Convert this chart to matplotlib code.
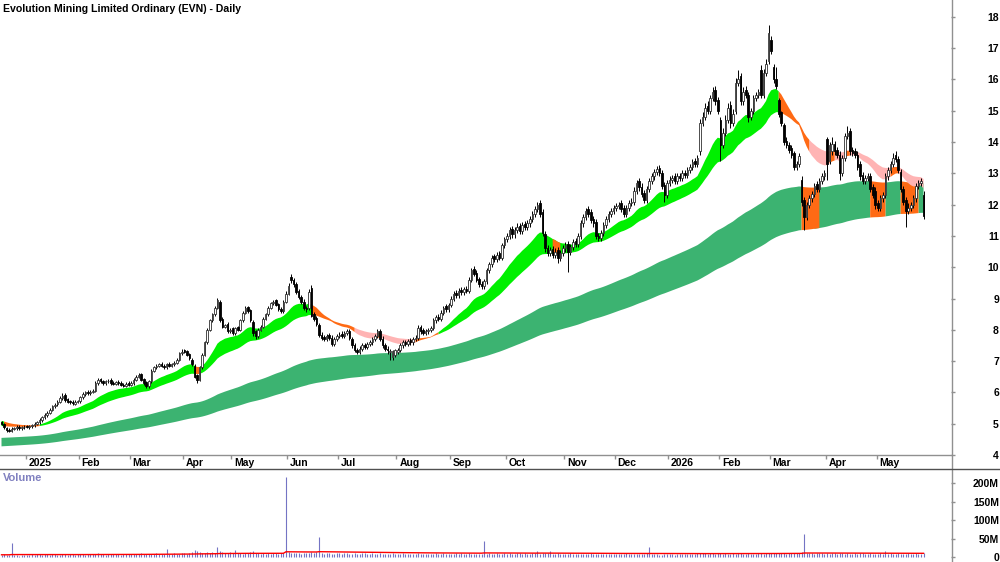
import numpy as np
import pandas as pd
import matplotlib
matplotlib.use("Agg")
import matplotlib.pyplot as plt
from matplotlib.lines import Line2D

# trading days per month on the chart (Dec 2024 partial .. May 2026 partial)
month_labels = ["", "2025", "Feb", "Mar", "Apr", "May", "Jun", "Jul", "Aug", "Sep",
                "Oct", "Nov", "Dec", "2026", "Feb", "Mar", "Apr", "May"]
month_days = [10, 21, 20, 21, 19, 22, 20, 23, 21, 22, 23, 20, 21, 20, 20, 22, 20, 19]

opens = [
    5.05, 4.98, 4.86, 4.80, 4.78, 4.84, 4.86, 4.90, 4.85, 4.88,
    4.92, 4.88, 4.92, 4.95, 5.00, 5.05, 5.12, 5.20, 5.28, 5.35, 5.45, 5.55, 5.62, 5.70, 5.82, 5.92, 5.78, 5.72, 5.70, 5.64, 5.70,
    5.72, 5.85, 5.95, 6.02, 5.98, 6.02, 6.05, 6.30, 6.42, 6.36, 6.30, 6.35, 6.40, 6.30, 6.28, 6.34, 6.30, 6.25, 6.22, 6.30,
    6.25, 6.30, 6.40, 6.50, 6.58, 6.42, 6.32, 6.20, 6.35, 6.70, 6.80, 6.85, 6.92, 6.86, 6.80, 6.92, 6.85, 6.90, 6.95, 7.05, 7.25,
    7.35, 7.32, 7.22, 7.05, 6.85, 6.55, 6.40, 6.80, 7.20, 7.60, 8.00, 8.30, 8.50, 8.70, 8.90, 8.35, 8.10, 8.20, 7.95,
    8.05, 7.90, 8.08, 8.00, 8.30, 8.55, 8.72, 8.62, 8.25, 7.95, 7.80, 8.00, 8.10, 8.35, 8.50, 8.70, 8.85, 8.95, 8.82, 8.68, 8.60, 8.90,
    9.15, 9.70, 9.58, 9.45, 9.25, 9.05, 8.90, 8.70, 8.70, 9.35, 8.50, 8.38, 8.15, 7.85, 7.78, 7.70, 7.82, 7.75, 7.55, 7.70,
    7.80, 7.88, 7.80, 7.90, 7.95, 7.70, 7.52, 7.35, 7.30, 7.40, 7.52, 7.45, 7.55, 7.60, 7.70, 7.80, 7.95, 7.72, 7.52, 7.40, 7.28, 7.12, 7.20,
    7.30, 7.35, 7.50, 7.62, 7.55, 7.68, 7.60, 7.70, 7.75, 8.08, 7.98, 7.90, 7.95, 8.00, 8.05, 8.30, 8.42, 8.35, 8.55, 8.75, 8.65,
    8.80, 9.00, 9.18, 9.10, 9.28, 9.20, 9.32, 9.25, 9.60, 9.95, 9.82, 9.62, 9.48, 9.40, 9.55, 9.90, 10.10, 10.35, 10.25, 10.45, 10.30, 10.70,
    10.90, 11.00, 11.22, 11.05, 11.20, 11.32, 11.15, 11.38, 11.30, 11.40, 11.55, 11.70, 11.85, 12.05, 11.75, 11.05, 10.62, 10.45, 10.58, 10.40, 10.55, 10.30, 10.45,
    10.60, 10.75, 10.50, 10.65, 10.85, 10.75, 11.00, 11.40, 11.60, 11.85, 11.75, 11.55, 11.45, 11.00, 10.95, 11.10, 11.35, 11.55, 11.70, 11.80,
    11.90, 11.95, 12.05, 11.88, 11.70, 11.90, 12.05, 12.10, 12.45, 12.75, 12.58, 12.38, 12.15, 12.50, 12.75, 12.90, 13.05, 13.18, 13.02, 12.62, 12.30,
    12.70, 12.80, 12.90, 12.75, 12.92, 12.85, 13.02, 12.95, 13.10, 13.20, 13.38, 13.30, 13.70, 14.60, 14.80, 15.15, 15.00, 15.40, 15.65, 15.35,
    14.70, 13.90, 14.30, 14.70, 15.20, 14.60, 15.00, 15.90, 16.10, 15.30, 15.65, 15.50, 14.80, 15.00, 15.40, 15.50, 16.30, 15.50, 16.20, 16.60,
    17.25, 16.40, 16.00, 15.35, 14.95, 14.55, 14.05, 13.90, 13.80, 13.65, 13.20, 13.30, 12.80, 12.15, 11.60, 12.00, 12.20, 12.35, 12.65, 12.50, 12.75, 12.90,
    14.10, 13.40, 13.70, 13.95, 13.75, 13.60, 13.00, 13.50, 14.20, 14.35, 13.75, 13.70, 13.60, 13.30, 12.95, 12.75, 12.85, 12.90, 12.55, 12.45,
    12.05, 11.90, 12.20, 12.30, 12.90, 13.10, 13.30, 13.60, 13.45, 13.05, 12.50, 12.15, 11.80, 11.90, 12.00, 12.20, 12.60, 12.70, 12.30,
]
highs = [
    5.10, 5.03, 4.91, 4.85, 4.89, 4.91, 4.95, 4.95, 4.93, 4.95,
    4.97, 4.97, 5.00, 5.05, 5.10, 5.17, 5.25, 5.33, 5.40, 5.50, 5.60, 5.65, 5.75, 5.87, 5.98, 5.97, 5.83, 5.77, 5.75, 5.75, 5.77,
    5.90, 6.00, 6.05, 6.07, 6.07, 6.10, 6.35, 6.45, 6.47, 6.41, 6.40, 6.43, 6.45, 6.35, 6.37, 6.39, 6.35, 6.30, 6.33, 6.35,
    6.35, 6.45, 6.55, 6.62, 6.63, 6.47, 6.37, 6.40, 6.75, 6.85, 6.90, 6.95, 6.97, 6.91, 6.95, 6.97, 6.95, 7.00, 7.10, 7.30, 7.38,
    7.40, 7.37, 7.27, 7.10, 6.90, 6.60, 6.85, 7.25, 7.65, 8.05, 8.35, 8.55, 8.75, 9.02, 8.95, 8.40, 8.20, 8.25, 8.05,
    8.10, 8.10, 8.13, 8.35, 8.60, 8.75, 8.77, 8.67, 8.30, 8.00, 8.05, 8.15, 8.40, 8.55, 8.75, 8.90, 8.95, 9.00, 8.87, 8.73, 8.95, 9.25,
    9.50, 9.80, 9.65, 9.52, 9.32, 9.12, 8.97, 8.77, 9.30, 9.42, 8.57, 8.45, 8.22, 7.92, 7.85, 7.87, 7.89, 7.82, 7.77, 7.87,
    7.92, 7.95, 7.97, 8.02, 8.02, 7.77, 7.59, 7.42, 7.47, 7.57, 7.59, 7.62, 7.67, 7.77, 7.87, 8.02, 8.02, 7.79, 7.59, 7.47, 7.38, 7.37, 7.40,
    7.42, 7.57, 7.67, 7.69, 7.72, 7.75, 7.77, 7.82, 8.15, 8.15, 8.05, 8.02, 8.07, 8.12, 8.37, 8.47, 8.49, 8.62, 8.77, 8.82, 8.87,
    9.08, 9.23, 9.26, 9.33, 9.36, 9.38, 9.40, 9.68, 9.98, 10.03, 9.90, 9.70, 9.56, 9.63, 9.98, 10.18, 10.38, 10.43, 10.48, 10.53, 10.78, 10.98,
    11.10, 11.30, 11.32, 11.30, 11.40, 11.42, 11.45, 11.48, 11.50, 11.65, 11.80, 11.95, 12.10, 12.15, 11.85, 11.15, 10.72, 10.65, 10.68, 10.60, 10.65, 10.55, 10.70,
    10.80, 10.85, 10.75, 10.90, 10.95, 11.10, 11.50, 11.70, 11.90, 11.95, 11.85, 11.65, 11.55, 11.10, 11.20, 11.45, 11.65, 11.80, 11.90, 12.00,
    12.05, 12.10, 12.15, 11.98, 12.00, 12.15, 12.20, 12.55, 12.80, 12.85, 12.68, 12.48, 12.60, 12.85, 13.00, 13.15, 13.25, 13.28, 13.12, 12.72, 12.80,
    12.90, 12.95, 13.00, 13.00, 13.02, 13.10, 13.12, 13.20, 13.30, 13.45, 13.48, 13.60, 14.75, 14.95, 15.25, 15.30, 15.50, 15.75, 15.80, 15.45,
    14.80, 14.45, 14.85, 15.25, 15.30, 15.05, 16.05, 16.30, 16.20, 15.75, 15.80, 15.60, 15.10, 15.50, 15.60, 15.70, 16.45, 16.35, 16.65, 17.75,
    17.40, 16.50, 16.40, 15.40, 15.00, 14.60, 14.15, 14.00, 13.90, 13.70, 13.40, 13.65, 12.90, 12.25, 12.10, 12.30, 12.45, 12.70, 12.75, 12.85, 13.00, 13.10,
    14.15, 14.00, 14.15, 14.05, 13.85, 13.70, 13.60, 14.30, 14.50, 14.45, 13.85, 13.80, 13.70, 13.40, 13.05, 12.95, 13.00, 13.00, 12.65, 12.55,
    12.15, 12.30, 12.40, 13.00, 13.20, 13.40, 13.65, 13.70, 13.55, 13.15, 12.60, 12.25, 12.05, 12.10, 12.30, 12.70, 12.80, 12.85, 12.45,
]
lows = [
    4.95, 4.83, 4.75, 4.72, 4.73, 4.79, 4.81, 4.80, 4.80, 4.83,
    4.85, 4.83, 4.87, 4.90, 4.95, 5.00, 5.07, 5.15, 5.23, 5.30, 5.40, 5.50, 5.57, 5.65, 5.77, 5.70, 5.65, 5.63, 5.60, 5.59, 5.65,
    5.67, 5.80, 5.90, 5.93, 5.93, 5.97, 6.00, 6.25, 6.30, 6.25, 6.25, 6.30, 6.25, 6.23, 6.23, 6.25, 6.20, 6.17, 6.17, 6.20,
    6.20, 6.25, 6.35, 6.45, 6.35, 6.25, 6.13, 6.15, 6.30, 6.65, 6.75, 6.80, 6.80, 6.75, 6.75, 6.80, 6.80, 6.85, 6.90, 7.00, 7.20,
    7.25, 7.15, 7.05, 6.85, 6.45, 6.30, 6.35, 6.75, 7.15, 7.55, 7.95, 8.25, 8.45, 8.65, 8.25, 8.05, 8.05, 7.90, 7.90,
    7.85, 7.85, 7.95, 7.95, 8.25, 8.50, 8.55, 8.25, 7.80, 7.70, 7.75, 7.95, 8.05, 8.30, 8.45, 8.65, 8.80, 8.75, 8.60, 8.55, 8.55, 8.85,
    9.10, 9.50, 9.38, 9.15, 8.98, 8.83, 8.63, 8.58, 8.63, 8.40, 8.28, 8.13, 7.78, 7.68, 7.63, 7.63, 7.68, 7.48, 7.48, 7.63,
    7.73, 7.73, 7.73, 7.83, 7.68, 7.43, 7.28, 7.23, 7.23, 7.33, 7.38, 7.38, 7.48, 7.53, 7.63, 7.73, 7.63, 7.43, 7.33, 7.22, 7.05, 7.05, 7.13,
    7.23, 7.28, 7.43, 7.48, 7.48, 7.53, 7.53, 7.63, 7.68, 7.88, 7.83, 7.83, 7.88, 7.93, 7.98, 8.23, 8.28, 8.28, 8.48, 8.58, 8.58,
    8.72, 8.92, 9.02, 9.02, 9.12, 9.12, 9.17, 9.17, 9.52, 9.72, 9.52, 9.37, 9.32, 9.32, 9.47, 9.82, 10.02, 10.17, 10.17, 10.22, 10.22, 10.62,
    10.80, 10.90, 10.95, 10.95, 11.10, 11.05, 11.05, 11.20, 11.20, 11.30, 11.45, 11.60, 11.75, 11.60, 11.00, 10.50, 10.35, 10.35, 10.30, 10.30, 10.15, 10.20, 10.35,
    10.50, 9.85, 10.40, 10.55, 10.65, 10.65, 10.90, 11.30, 11.50, 11.60, 11.40, 11.30, 10.90, 10.85, 10.85, 11.00, 11.25, 11.45, 11.60, 11.70,
    11.80, 11.85, 11.75, 11.60, 11.60, 11.80, 11.95, 12.00, 12.35, 12.45, 12.25, 12.05, 12.05, 12.40, 12.65, 12.80, 12.95, 12.90, 12.50, 12.10, 12.20,
    12.60, 12.70, 12.65, 12.65, 12.75, 12.75, 12.85, 12.85, 13.00, 13.10, 13.20, 13.20, 13.60, 14.50, 14.70, 14.90, 14.90, 15.30, 15.20, 14.90,
    13.40, 13.80, 14.20, 14.60, 14.45, 14.50, 14.90, 15.80, 15.20, 15.20, 15.40, 14.65, 14.70, 14.90, 15.30, 15.40, 15.40, 15.40, 16.10, 16.50,
    16.80, 15.90, 15.70, 14.80, 14.50, 13.90, 13.80, 13.65, 13.50, 13.10, 13.10, 13.20, 11.95, 11.20, 11.50, 11.90, 12.10, 12.25, 12.40, 12.40, 12.65, 12.80,
    12.80, 13.30, 13.60, 13.60, 13.50, 12.80, 12.90, 13.40, 14.10, 13.60, 13.55, 13.50, 13.10, 12.80, 12.65, 12.65, 12.75, 12.40, 12.20, 11.85,
    11.80, 11.80, 12.10, 12.20, 12.80, 13.00, 13.20, 13.35, 13.00, 12.40, 12.00, 11.30, 11.70, 11.80, 11.90, 12.10, 12.50, 12.60, 11.55,
]
closes = [
    5.00, 4.88, 4.80, 4.78, 4.84, 4.86, 4.90, 4.85, 4.88, 4.90,
    4.90, 4.92, 4.95, 5.00, 5.05, 5.12, 5.20, 5.28, 5.35, 5.45, 5.55, 5.60, 5.70, 5.82, 5.90, 5.75, 5.70, 5.68, 5.65, 5.70, 5.72,
    5.85, 5.95, 6.00, 5.98, 6.02, 6.05, 6.30, 6.40, 6.35, 6.30, 6.35, 6.38, 6.30, 6.28, 6.32, 6.30, 6.25, 6.22, 6.28, 6.25,
    6.30, 6.40, 6.50, 6.55, 6.40, 6.30, 6.20, 6.35, 6.70, 6.80, 6.85, 6.90, 6.85, 6.80, 6.90, 6.85, 6.90, 6.95, 7.05, 7.25, 7.30,
    7.30, 7.20, 7.10, 6.90, 6.50, 6.40, 6.80, 7.20, 7.60, 8.00, 8.30, 8.50, 8.70, 8.95, 8.30, 8.10, 8.15, 7.95, 8.00,
    7.90, 8.05, 8.00, 8.30, 8.55, 8.70, 8.60, 8.30, 7.90, 7.80, 8.00, 8.10, 8.35, 8.50, 8.70, 8.85, 8.90, 8.80, 8.65, 8.60, 8.90, 9.15,
    9.40, 9.60, 9.45, 9.20, 9.05, 8.90, 8.70, 8.65, 9.20, 8.45, 8.35, 8.20, 7.85, 7.75, 7.70, 7.80, 7.75, 7.55, 7.70, 7.80,
    7.85, 7.80, 7.90, 7.95, 7.75, 7.50, 7.35, 7.30, 7.40, 7.50, 7.45, 7.55, 7.60, 7.70, 7.80, 7.95, 7.70, 7.50, 7.40, 7.34, 7.33, 7.33, 7.36,
    7.35, 7.50, 7.60, 7.55, 7.65, 7.60, 7.70, 7.75, 8.05, 7.95, 7.90, 7.95, 8.00, 8.05, 8.30, 8.40, 8.35, 8.55, 8.70, 8.65, 8.80,
    9.00, 9.15, 9.10, 9.25, 9.20, 9.30, 9.25, 9.60, 9.90, 9.80, 9.60, 9.45, 9.40, 9.55, 9.90, 10.10, 10.30, 10.25, 10.40, 10.30, 10.70, 10.90,
    11.00, 11.20, 11.05, 11.20, 11.30, 11.15, 11.35, 11.30, 11.40, 11.55, 11.70, 11.85, 12.00, 11.70, 11.10, 10.60, 10.45, 10.55, 10.40, 10.50, 10.30, 10.45, 10.60,
    10.70, 10.50, 10.65, 10.80, 10.75, 11.00, 11.40, 11.60, 11.80, 11.70, 11.50, 11.40, 11.00, 10.95, 11.10, 11.35, 11.55, 11.70, 11.80, 11.90,
    11.95, 12.00, 11.85, 11.70, 11.90, 12.05, 12.10, 12.45, 12.70, 12.55, 12.35, 12.15, 12.50, 12.75, 12.90, 13.05, 13.15, 13.00, 12.60, 12.30, 12.70,
    12.80, 12.85, 12.75, 12.90, 12.85, 13.00, 12.95, 13.10, 13.20, 13.35, 13.30, 13.50, 14.60, 14.80, 15.10, 15.00, 15.40, 15.60, 15.30, 15.00,
    13.90, 14.30, 14.70, 15.10, 14.60, 14.90, 15.90, 16.00, 15.30, 15.60, 15.50, 14.80, 15.00, 15.40, 15.50, 15.60, 15.50, 16.20, 16.50, 17.50,
    16.90, 16.00, 15.80, 14.90, 14.60, 14.00, 13.90, 13.75, 13.60, 13.20, 13.30, 13.55, 12.10, 11.60, 12.00, 12.20, 12.35, 12.60, 12.50, 12.75, 12.90, 13.00,
    13.30, 13.90, 13.95, 13.70, 13.60, 13.00, 13.50, 14.20, 14.30, 13.70, 13.65, 13.60, 13.20, 12.90, 12.75, 12.85, 12.90, 12.50, 12.30, 12.00,
    11.90, 12.20, 12.30, 12.90, 13.10, 13.30, 13.50, 13.45, 13.10, 12.50, 12.10, 11.80, 11.90, 12.00, 12.20, 12.60, 12.70, 12.75, 11.65,
]
# volume in millions of shares
volume_m = [
    6, 7, 5, 5, 38, 6, 5, 4, 5, 6,
    6, 5, 7, 6, 8, 7, 6, 9, 7, 6, 8, 7, 6, 5, 8, 7, 6, 7, 8, 6, 7,
    7, 8, 6, 7, 9, 8, 7, 10, 8, 7, 6, 8, 7, 9, 8, 7, 6, 8, 7, 9,
    8, 7, 9, 8, 10, 9, 8, 7, 9, 8, 10, 9, 8, 9, 22, 8, 9, 10, 8, 9, 11,
    10, 9, 11, 13, 18, 16, 14, 12, 11, 13, 12, 14, 11, 27, 16, 13, 12, 11, 13,
    11, 18, 10, 12, 9, 11, 10, 13, 16, 12, 10, 9, 11, 8, 10, 9, 11, 10, 9, 12, 11, 216,
    13, 11, 10, 12, 11, 9, 10, 11, 12, 14, 11, 13, 54, 10, 9, 11, 10, 9, 8, 10,
    10, 9, 11, 10, 8, 9, 10, 8, 9, 10, 11, 9, 8, 10, 9, 8, 10, 9, 8, 7, 9, 10, 8,
    9, 8, 10, 8, 7, 9, 8, 7, 10, 8, 9, 8, 7, 9, 8, 10, 9, 8, 11, 9, 8,
    9, 8, 10, 9, 11, 8, 9, 10, 9, 8, 7, 9, 8, 43, 9, 10, 8, 9, 10, 9, 8, 10,
    9, 10, 8, 9, 10, 11, 9, 10, 8, 9, 10, 11, 16, 9, 12, 10, 11, 16, 9, 8, 10, 9, 8,
    9, 8, 10, 9, 8, 9, 7, 8, 9, 8, 10, 8, 9, 7, 8, 9, 8, 7, 9, 8,
    8, 7, 9, 8, 10, 7, 8, 9, 8, 7, 9, 8, 10, 27, 8, 7, 9, 6, 5, 7, 8,
    7, 8, 6, 7, 8, 7, 9, 8, 7, 8, 9, 10, 12, 11, 10, 9, 11, 10, 9, 10,
    11, 9, 10, 9, 8, 10, 9, 11, 10, 9, 8, 10, 9, 8, 9, 10, 11, 9, 10, 12,
    12, 11, 10, 12, 11, 10, 9, 11, 10, 12, 11, 10, 14, 62, 12, 11, 10, 9, 10, 11, 10, 9,
    10, 9, 11, 10, 9, 10, 11, 9, 10, 9, 8, 10, 9, 11, 10, 9, 8, 10, 9, 8,
    9, 10, 8, 16, 9, 10, 8, 9, 10, 9, 8, 9, 10, 8, 9, 10, 9, 8, 10,
]

short_periods = [20, 24, 28, 32, 36, 40]
short_seed = [5.10, 5.07, 5.03, 5.00, 4.96, 4.92]
long_periods = [140, 155, 170, 190, 210, 230]
long_seed = [4.54, 4.49, 4.44, 4.38, 4.32, 4.27]
vol_avg_span = 100

price_ticks = list(range(4, 19))
vol_ticks = [0, 50, 100, 150, 200]
vol_tick_labels = ["0", "50M", "100M", "150M", "200M"]

LIME = "#00F000"
PINK = "#FFB4B4"
ORANGE = "#FF6A14"
SEA = "#3CB371"
GREY = "#909090"
FONT = ["Liberation Sans", "DejaVu Sans"]


def ema(values, period, seed):
    k = 2.0 / (period + 1)
    out, prev = [], seed
    for v in values:
        prev = prev + k * (v - prev)
        out.append(prev)
    return np.array(out)


def widen(mask):
    m = mask.copy()
    m[1:] |= mask[:-1]
    return m


o = np.array(opens)
h = np.array(highs)
l = np.array(lows)
c = np.array(closes)
v = np.array(volume_m, dtype=float)
x = np.arange(len(c))

short = np.array([ema(c, p, s) for p, s in zip(short_periods, short_seed)])
long_ = np.array([ema(c, p, s) for p, s in zip(long_periods, long_seed)])
s_top, s_bot = short.max(0), short.min(0)
l_top, l_bot = long_.max(0), long_.min(0)

d = np.diff(short, axis=0)
up_state = np.all(d < 0, axis=0) & (c >= s_bot)
down_state = np.all(d > 0, axis=0) & (c <= s_top)
mixed_state = ~(up_state | down_state)
long_warn = c < l_top

fig = plt.figure(figsize=(10, 5.62), dpi=100)
H = 562.0
ax = fig.add_axes([0, 1 - 455 / H, 0.951, 455 / H])
axv = fig.add_axes([0, 0, 0.951, 1 - 469 / H])

# long ribbon
ax.fill_between(x, l_bot, l_top, where=widen(~long_warn), color=SEA, lw=0, zorder=1)
ax.fill_between(x, l_bot, l_top, where=widen(long_warn), color=ORANGE, lw=0, zorder=1)
# short ribbon
ax.fill_between(x, s_bot, s_top, where=widen(up_state), color=LIME, lw=0, zorder=2)
ax.fill_between(x, s_bot, s_top, where=widen(down_state), color=PINK, lw=0, zorder=2)
ax.fill_between(x, s_bot, s_top, where=widen(mixed_state), color=ORANGE, lw=0, zorder=2)

# candles
ax.vlines(x, l, h, color="black", lw=0.7, zorder=3)
rising = c >= o
body_lo = np.minimum(o, c)
body_h = np.maximum(np.abs(c - o), 0.02)
ax.bar(x[rising], body_h[rising], bottom=body_lo[rising], width=0.62,
       facecolor="white", edgecolor="#303030", lw=0.6, zorder=4)
ax.bar(x[~rising], body_h[~rising], bottom=body_lo[~rising], width=0.62,
       facecolor="black", edgecolor="black", lw=0.6, zorder=4)

xmin, xmax = -1.5 / 2.54, (951 - 1.5) / 2.54
ax.set_xlim(xmin, xmax)
ax.set_ylim(4.0, 18.54)

for sp in ["top", "left", "right"]:
    ax.spines[sp].set_visible(False)
ax.spines["bottom"].set_color(GREY)
ax.spines["bottom"].set_linewidth(1.0)

# month ticks and labels
starts = np.cumsum([0] + month_days[:-1])
tick_pos = [s - 0.5 for s, lab in zip(starts, month_labels) if lab]
tick_lab = [lab for lab in month_labels if lab]
ax.set_xticks(tick_pos)
ax.set_xticklabels([])
ax.tick_params(axis="x", direction="out", length=3, color=GREY, width=1)
for tp, lab in zip(tick_pos, tick_lab):
    ax.annotate(lab, xy=(tp, 0), xycoords=("data", "axes fraction"),
                xytext=(2, -5.8), textcoords="offset points", ha="left", va="center",
                fontsize=7.5, fontweight="bold", family=FONT)

# right price scale
ax.yaxis.tick_right()
ax.set_yticks(price_ticks)
ax.set_yticklabels([str(t) for t in price_ticks])
ax.tick_params(axis="y", direction="out", length=3, color=GREY, width=1, pad=31.5)
for lbl in ax.get_yticklabels():
    lbl.set_horizontalalignment("right")
    lbl.set_fontsize(7.5)
    lbl.set_fontweight("bold")
    lbl.set_family(FONT)

# volume
axv.vlines(x, 0, v, color="#7474C4", lw=0.8, zorder=2)
vol_avg = pd.Series(v).ewm(span=vol_avg_span, adjust=False).mean()
axv.plot(x, vol_avg, color="#FF0000", lw=1.0, zorder=3)
axv.set_xlim(xmin, xmax)
axv.set_ylim(-13.5, 238)
axv.set_xticks([])
for sp in axv.spines.values():
    sp.set_visible(False)
axv.yaxis.tick_right()
axv.set_yticks(vol_ticks)
axv.set_yticklabels(vol_tick_labels)
axv.tick_params(axis="y", direction="out", length=3, color=GREY, width=1, pad=31.5)
for lbl in axv.get_yticklabels():
    lbl.set_horizontalalignment("right")
    lbl.set_fontsize(7.5)
    lbl.set_fontweight("bold")
    lbl.set_family(FONT)

# frame lines
fig.add_artist(Line2D([0.9515, 0.9515], [0, 1], transform=fig.transFigure, color=GREY, lw=1))
fig.add_artist(Line2D([0, 1], [1 - 469 / H, 1 - 469 / H], transform=fig.transFigure,
                      color="#505050", lw=1))

fig.text(0.003, 1 - 8.5 / H, "Evolution Mining Limited Ordinary (EVN) - Daily",
         ha="left", va="center", fontsize=7.6, fontweight="bold", family=FONT)
fig.text(0.003, 1 - 478 / H, "Volume", ha="left", va="center", fontsize=8,
         fontweight="bold", color="#8080C0", family=FONT)

fig.savefig("out.png", dpi=100)
